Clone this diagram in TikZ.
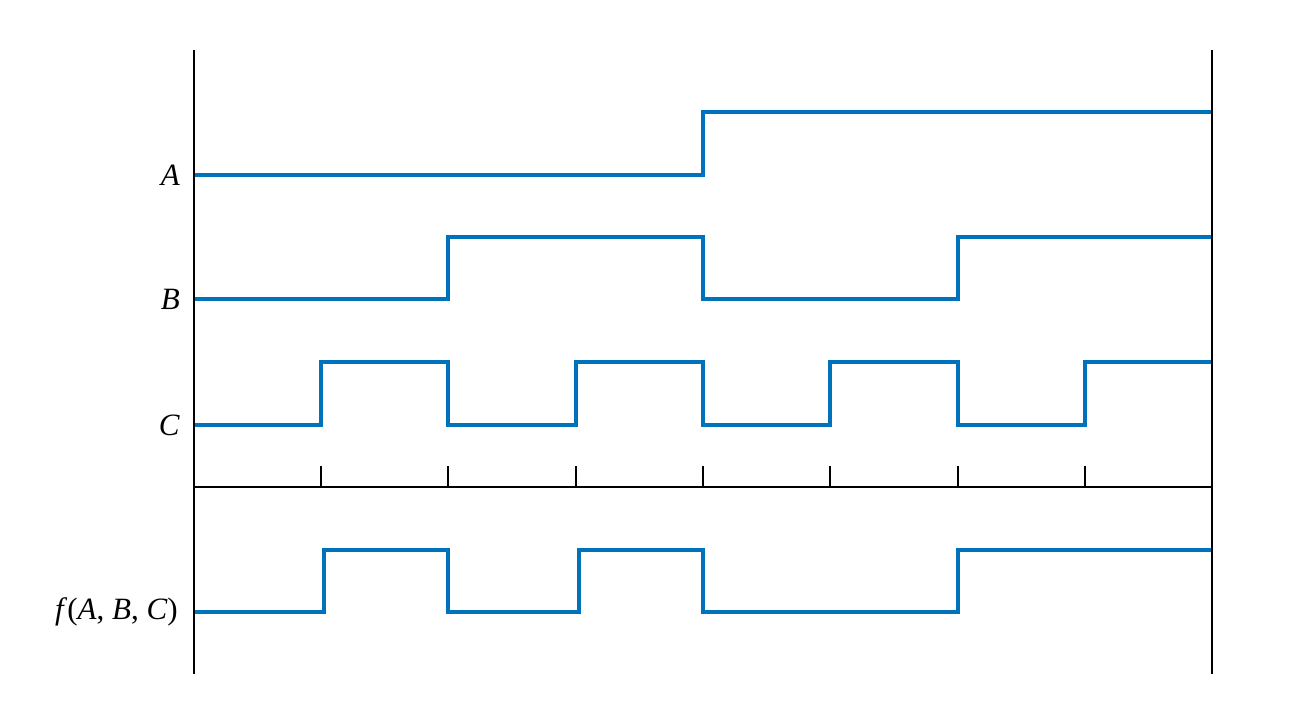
\documentclass[tikz,border=0pt]{standalone}
\usepackage{fontspec}
\setmainfont{Liberation Serif}
\definecolor{wave}{RGB}{0,114,188}
\begin{document}
\begin{tikzpicture}[x=1pt,y=-1pt,
  axis/.style={black,line width=2.6pt},
  tickmark/.style={black,line width=1.5pt},
  sig/.style={wave,line width=3.6pt,line join=miter},
  lbl/.style={anchor=east,inner sep=0pt,font=\fontsize{31}{36}\selectfont}]
\useasboundingbox (0,0) rectangle (1296,718);
% axes
\coordinate (lt) at (194,50);
\coordinate (lb) at (194,674);
\coordinate (rt) at (1212,50);
\coordinate (rb) at (1212,674);
\coordinate (hl) at (194,487);
\coordinate (hr) at (1212,487);
\draw[axis] (lt) -- (lb);
\draw[axis] (rt) -- (rb);
\draw[axis,line width=2.2pt] (hl) -- (hr);
\foreach \x in {321,448,576,703,830,958,1085}
  \draw[tickmark] (\x,466) -- (\x,487);
% labels
\node[lbl] (la) at (180,175) {\textit{A}};
\node[lbl] (lbB) at (180,299) {\textit{B}};
\node[lbl] (lc) at (180,425) {\textit{C}};
\node[lbl] (lf) at (178,612) {\textit{f}(\textit{A}, \textit{B}, \textit{C})};
% signals
\draw[sig] (195,175) -- (703,175) -- (703,112) -- (1211,112);
\draw[sig] (195,299) -- (448,299) -- (448,237) -- (703,237) -- (703,299) -- (958,299) -- (958,237) -- (1211,237);
\draw[sig] (195,425) -- (321,425) -- (321,362) -- (448,362) -- (448,425) -- (576,425) -- (576,362) -- (703,362) -- (703,425) -- (830,425) -- (830,362) -- (958,362) -- (958,425) -- (1085,425) -- (1085,362) -- (1211,362);
\draw[sig] (195,612) -- (324,612) -- (324,550) -- (448,550) -- (448,612) -- (579,612) -- (579,550) -- (703,550) -- (703,612) -- (958,612) -- (958,550) -- (1211,550);
\end{tikzpicture}
\end{document}
